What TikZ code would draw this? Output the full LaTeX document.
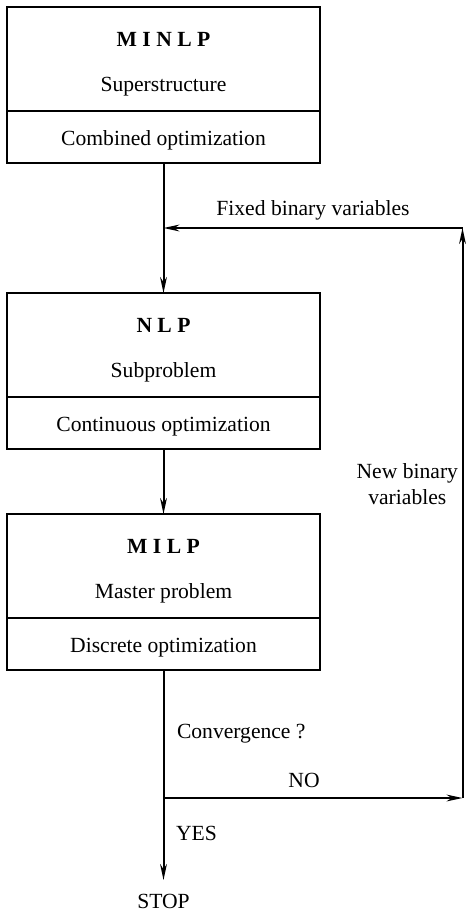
\documentclass[tikz,border=0pt]{standalone}
\usepackage{fontspec}
\setmainfont{Liberation Serif}
\usetikzlibrary{arrows.meta,positioning}

% title line of a box, with extra room above it
\newcommand{\boxtitle}[1]{\rule{0pt}{12.6pt}\textbf{#1}}

\begin{document}
\begin{tikzpicture}[
        >={Stealth[length=8pt,width=3.4pt]},
        line width=1pt,
        font=\fontsize{10.8}{22.5}\selectfont,
        box/.style={draw, outer sep=0pt, minimum width=156.5pt, inner xsep=0pt},
        head/.style={box, align=center, minimum height=52pt, inner ysep=0pt},
        task/.style={box, inner ysep=0pt, text height=17.35pt, text depth=8.65pt},
        lbl/.style={inner sep=1pt, font=\fontsize{10.8}{13}\selectfont}
      ]
      \useasboundingbox (0,0) rectangle (237pt,-458.5pt);

      % --- Nodes (three boxes stacked, each with a lower part) ---
      \node[head] (minlp) at (81.75pt,-29.5pt) {\boxtitle{M I N L P}\\Superstructure};
      \node[task, below=0pt of minlp] (minlpopt) {Combined optimization};

      \node[head, below=65pt of minlpopt] (nlp) {\boxtitle{N L P}\\Subproblem};
      \node[task, below=0pt of nlp] (nlpopt) {Continuous optimization};

      \node[head, below=32.5pt of nlpopt] (milp) {\boxtitle{M I L P}\\Master problem};
      \node[task, below=0pt of milp] (milpopt) {Discrete optimization};

      \node[lbl, below=110.5pt of milpopt] (stop) {STOP};

      % loop corners
      \coordinate[below=32.5pt of minlpopt.south] (fb);
      \coordinate[right=149.5pt of fb] (fbr);
      \coordinate[below=64pt of milpopt.south] (no);
      \coordinate[right=149.5pt of no] (nor);

      % --- Arrows ---
      \draw[->] (minlpopt) -- (nlp);
      \draw[->] (nlpopt) -- (milp);
      \draw (milpopt) -- node[lbl, right=5.25pt] {Convergence ?} (no);
      \draw[->, shorten >=5.5pt] (no) -- node[lbl, right=4.75pt, pos=0.38] {YES} (stop);
      \draw[->] (no) -- node[lbl, above=3.85pt, pos=0.47] {NO} (nor);
      \draw[->] (nor) -- node[lbl, left=0.75pt, pos=0.55, align=center] {New binary\\variables} (fbr);
      \draw[->] (fbr) -- node[lbl, above=2.3pt] {Fixed binary variables} (fb);

    \end{tikzpicture}
\end{document}
